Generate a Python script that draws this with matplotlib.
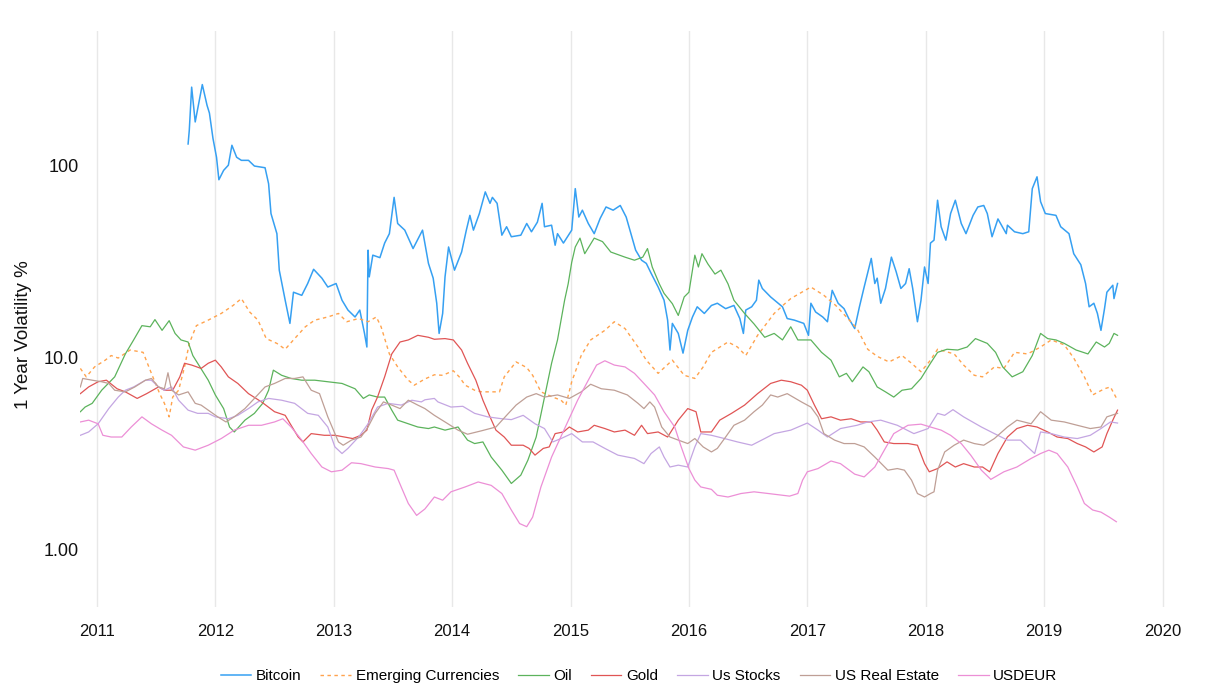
import matplotlib
matplotlib.use("Agg")
import matplotlib.pyplot as plt
import numpy as np

# ---- data: (decimal year, 1-year volatility %) ----
bitcoin = [(2011.77,129),(2011.78,152),(2011.80,255),(2011.83,168),(2011.86,210),(2011.89,263),(2011.93,205),
 (2011.95,187),(2011.98,138),(2012.01,110),(2012.03,84),(2012.07,94),(2012.11,100),(2012.14,127),(2012.18,110),
 (2012.22,106),(2012.28,106),(2012.33,99),(2012.42,97),(2012.45,80),(2012.47,56),(2012.52,44),(2012.54,28.4),
 (2012.59,19.8),(2012.63,15),(2012.66,21.8),(2012.73,21),(2012.78,24.2),(2012.83,28.7),(2012.90,25.8),(2012.95,23.2),
 (2013.02,24.2),(2013.07,19.8),(2013.12,17.6),(2013.18,16.2),(2013.22,17.6),(2013.26,13.3),(2013.28,11.3),(2013.29,36.1),
 (2013.30,26.2),(2013.33,34),(2013.39,33),(2013.43,39.3),(2013.47,44),(2013.51,68),(2013.54,49.7),(2013.60,45.9),
 (2013.67,36.8),(2013.75,45.9),(2013.80,30.8),(2013.84,25.8),(2013.87,19.1),(2013.89,13.3),(2013.92,16.9),(2013.94,26.2),
 (2013.97,37.5),(2014.02,28.4),(2014.08,35.3),(2014.12,45.9),(2014.15,54.8),(2014.18,45.9),(2014.23,56),(2014.28,72.6),
 (2014.32,63.3),(2014.34,68),(2014.38,63.3),(2014.42,43.2),(2014.46,47.8),(2014.50,42.4),(2014.58,43.2),(2014.63,49.7),
 (2014.67,45),(2014.72,50.5),(2014.76,63.3),(2014.78,47.8),(2014.84,48.7),(2014.87,38.3),(2014.89,44),(2014.94,39.3),
 (2015.01,45.9),(2015.04,75.5),(2015.07,53.7),(2015.10,58.3),(2015.15,49.7),(2015.20,44),(2015.25,52.8),(2015.30,60.6),
 (2015.36,58.3),(2015.42,61.7),(2015.47,53.7),(2015.51,44),(2015.55,36.1),(2015.60,32),(2015.64,30.8),(2015.68,27.4),
 (2015.74,23.2),(2015.79,19.8),(2015.82,15.6),(2015.84,10.9),(2015.86,15),(2015.91,13.3),(2015.95,10.5),(2015.99,13.8),
 (2016.03,16.2),(2016.07,18.3),(2016.13,16.9),(2016.19,18.6),(2016.24,19.1),(2016.31,17.9),(2016.38,18.6),(2016.43,15.9),
 (2016.46,13.3),(2016.48,17.6),(2016.53,18.3),(2016.57,19.8),(2016.59,25.2),(2016.62,22.8),(2016.69,20.6),(2016.79,18.3),
 (2016.83,15.9),(2016.89,15.6),(2016.97,15),(2017.01,13),(2017.03,19.1),(2017.07,17.2),(2017.13,16.2),(2017.17,15.3),
 (2017.21,22.3),(2017.26,19.1),(2017.31,17.9),(2017.35,15.9),(2017.40,14.1),(2017.44,18.3),(2017.48,23.2),(2017.54,32.7),
 (2017.57,24.2),(2017.59,25.8),(2017.62,19.1),(2017.66,22.8),(2017.71,33.2),(2017.75,27.9),(2017.79,22.8),(2017.83,24.2),
 (2017.86,28.9),(2017.89,22.8),(2017.93,15.3),(2017.96,19.8),(2017.99,29.5),(2018.02,24.2),(2018.04,39.3),(2018.07,40.7),
 (2018.10,65.7),(2018.13,47.8),(2018.17,40.7),(2018.21,56),(2018.25,65.7),(2018.30,49.7),(2018.34,44),(2018.40,54.8),
 (2018.44,60.6),(2018.49,61.7),(2018.52,56),(2018.56,42.4),(2018.61,52.5),(2018.68,44),(2018.69,48.7),(2018.75,45),
 (2018.82,44),(2018.87,45),(2018.90,75.5),(2018.94,87),(2018.97,64.6),(2019.01,56),(2019.10,54.8),(2019.14,47.8),
 (2019.21,44),(2019.25,34.6),(2019.31,30.3),(2019.35,24.2),(2019.38,18.3),(2019.42,19.1),(2019.45,16.9),(2019.48,13.8),
 (2019.51,17.9),(2019.53,21.8),(2019.58,23.7),(2019.59,20.2),(2019.62,24.2)]

emerging = [(2010.86,8.74),(2010.91,7.9),(2010.98,8.9),(2011.07,9.65),(2011.12,10.2),(2011.18,9.9),(2011.28,10.9),
 (2011.39,10.6),(2011.46,8.24),(2011.53,6.46),(2011.57,5.75),(2011.61,4.89),(2011.64,6.2),(2011.69,6.73),(2011.74,8.9),
 (2011.78,11.8),(2011.84,14.6),(2011.94,15.6),(2012.05,16.9),(2012.15,18.6),(2012.22,20.2),(2012.29,17.2),(2012.36,15.6),
 (2012.43,12.5),(2012.52,11.8),(2012.59,11.0),(2012.67,12.5),(2012.76,14.4),(2012.84,15.6),(2012.95,16.2),(2013.04,16.9),
 (2013.11,15.3),(2013.21,15.9),(2013.29,15.3),(2013.36,16.2),(2013.40,14.4),(2013.47,10.4),(2013.54,8.9),(2013.63,7.59),
 (2013.68,7.15),(2013.77,7.7),(2013.85,8.1),(2013.92,8.05),(2014.01,8.5),(2014.06,7.9),(2014.11,7.15),(2014.19,6.73),
 (2014.25,6.6),(2014.40,6.6),(2014.44,7.9),(2014.54,9.45),(2014.63,8.83),(2014.68,8.05),(2014.75,6.6),(2014.85,6.2),
 (2014.92,5.97),(2014.96,5.63),(2015.01,7.45),(2015.09,10.2),(2015.17,12.3),(2015.29,13.8),(2015.37,15.3),(2015.46,14.1),
 (2015.57,11.3),(2015.64,9.65),(2015.74,8.24),(2015.86,9.65),(2015.96,8.05),(2016.05,7.75),(2016.12,8.9),(2016.19,10.6),
 (2016.33,12.0),(2016.41,11.3),(2016.48,10.2),(2016.58,13.0),(2016.72,16.9),(2016.81,19.0),(2016.86,20.2),(2017.03,23.2),
 (2017.14,21.0),(2017.24,18.6),(2017.33,16.2),(2017.42,14.1),(2017.51,11.0),(2017.59,10.1),(2017.69,9.45),(2017.80,10.2),
 (2017.88,9.3),(2017.96,8.4),(2018.04,9.65),(2018.10,11.0),(2018.24,10.4),(2018.32,9.1),(2018.41,8.05),(2018.48,7.9),
 (2018.58,8.9),(2018.66,8.74),(2018.75,10.6),(2018.86,10.4),(2018.97,11.3),(2019.06,12.3),(2019.17,11.6),(2019.25,9.9),
 (2019.34,7.9),(2019.41,6.36),(2019.51,6.85),(2019.56,7.0),(2019.62,5.97)]

oil = [(2010.86,5.2),(2010.90,5.5),(2010.96,5.75),(2011.04,6.73),(2011.15,7.9),(2011.24,10.4),(2011.31,12.3),
 (2011.38,14.6),(2011.45,14.4),(2011.49,15.7),(2011.55,13.8),(2011.61,15.5),(2011.66,13.3),(2011.71,12.3),(2011.77,12.0),
 (2011.81,10.2),(2011.87,8.9),(2011.94,7.59),(2012.00,6.36),(2012.07,5.4),(2012.12,4.33),(2012.16,4.08),(2012.25,4.7),
 (2012.33,5.1),(2012.40,5.75),(2012.45,6.73),(2012.49,8.56),(2012.56,8.05),(2012.64,7.75),(2012.73,7.59),(2012.84,7.59),
 (2012.95,7.45),(2013.07,7.3),(2013.18,6.85),(2013.25,6.1),(2013.30,6.36),(2013.37,6.2),(2013.43,6.2),(2013.49,5.3),
 (2013.54,4.7),(2013.63,4.5),(2013.71,4.33),(2013.80,4.25),(2013.85,4.33),(2013.94,4.17),(2014.05,4.33),(2014.13,3.7),
 (2014.19,3.55),(2014.26,3.62),(2014.33,3.02),(2014.42,2.58),(2014.50,2.2),(2014.58,2.43),(2014.64,2.91),(2014.71,3.84),
 (2014.78,6.2),(2014.84,9.3),(2014.89,12.3),(2014.95,19.8),(2014.98,24.1),(2015.01,31.2),(2015.04,37.5),(2015.08,41.7),
 (2015.12,34.6),(2015.20,41.7),(2015.27,40.0),(2015.34,35.3),(2015.46,33.2),(2015.54,32.0),(2015.61,33.2),(2015.65,36.8),
 (2015.69,29.5),(2015.75,24.1),(2015.79,21.5),(2015.86,19.0),(2015.91,16.5),(2015.96,20.6),(2016.00,21.8),(2016.05,34.0),
 (2016.08,29.5),(2016.11,34.6),(2016.16,30.6),(2016.22,27.1),(2016.27,28.4),(2016.33,24.1),(2016.38,19.8),(2016.47,16.9),
 (2016.55,14.9),(2016.64,12.7),(2016.72,13.3),(2016.79,12.3),(2016.86,14.4),(2016.92,12.3),(2017.03,12.3),(2017.12,10.6),
 (2017.20,9.65),(2017.27,7.9),(2017.33,8.24),(2017.38,7.45),(2017.47,8.9),(2017.52,8.4),(2017.59,7.0),(2017.66,6.6),
 (2017.73,6.2),(2017.80,6.73),(2017.88,6.85),(2017.96,7.75),(2018.04,9.3),(2018.10,10.6),(2018.18,11.0),(2018.27,10.9),
 (2018.35,11.3),(2018.42,12.5),(2018.52,11.8),(2018.59,10.6),(2018.65,8.9),(2018.73,7.9),(2018.82,8.4),(2018.90,10.2),
 (2018.97,13.3),(2019.03,12.5),(2019.10,12.3),(2019.17,11.8),(2019.27,10.9),(2019.37,10.4),(2019.44,12.0),(2019.51,11.3),
 (2019.55,11.8),(2019.59,13.3),(2019.62,13.0)]

gold = [(2010.86,6.46),(2010.93,7.0),(2011.01,7.45),(2011.08,7.59),(2011.17,6.85),(2011.24,6.6),(2011.34,6.1),
 (2011.42,6.46),(2011.52,7.0),(2011.57,6.73),(2011.64,6.73),(2011.70,7.9),(2011.74,9.3),(2011.80,9.1),(2011.88,8.74),
 (2011.94,9.3),(2012.00,9.65),(2012.05,8.9),(2012.11,7.9),(2012.19,7.3),(2012.28,6.46),(2012.39,5.85),(2012.50,5.2),
 (2012.59,4.98),(2012.64,4.42),(2012.70,3.84),(2012.74,3.62),(2012.81,4.0),(2012.92,3.92),(2013.01,3.92),(2013.09,3.84),
 (2013.16,3.77),(2013.23,3.92),(2013.28,4.17),(2013.32,5.3),(2013.37,6.2),(2013.43,7.9),(2013.49,10.4),(2013.56,12.0),
 (2013.63,12.3),(2013.71,13.0),(2013.80,12.7),(2013.85,12.4),(2013.94,12.5),(2014.01,12.3),(2014.08,10.9),(2014.13,9.3),
 (2014.20,7.59),(2014.26,5.97),(2014.32,4.89),(2014.37,4.17),(2014.44,3.84),(2014.50,3.48),(2014.60,3.48),(2014.65,3.35),
 (2014.70,3.09),(2014.77,3.35),(2014.82,3.41),(2014.87,4.0),(2014.94,4.08),(2014.99,4.33),(2015.06,4.08),(2015.15,4.17),
 (2015.20,4.42),(2015.29,4.25),(2015.37,4.08),(2015.46,4.17),(2015.54,3.92),(2015.60,4.42),(2015.65,4.0),(2015.74,4.08),
 (2015.82,3.84),(2015.91,4.7),(2015.99,5.4),(2016.06,5.2),(2016.10,4.08),(2016.19,4.08),(2016.26,4.7),(2016.36,5.1),
 (2016.47,5.63),(2016.58,6.46),(2016.69,7.3),(2016.78,7.59),(2016.86,7.45),(2016.95,7.15),(2017.00,6.73),(2017.06,5.63),
 (2017.12,4.78),(2017.20,4.89),(2017.28,4.7),(2017.37,4.78),(2017.45,4.6),(2017.54,4.6),(2017.59,4.17),(2017.65,3.62),
 (2017.73,3.55),(2017.85,3.55),(2017.93,3.48),(2017.99,2.79),(2018.03,2.53),(2018.10,2.63),(2018.18,2.85),(2018.25,2.68),
 (2018.32,2.79),(2018.41,2.68),(2018.48,2.68),(2018.54,2.53),(2018.61,3.15),(2018.69,3.84),(2018.77,4.25),(2018.86,4.42),
 (2018.94,4.33),(2019.03,4.08),(2019.11,3.84),(2019.20,3.77),(2019.28,3.55),(2019.35,3.41),(2019.42,3.21),(2019.49,3.41),
 (2019.53,4.0),(2019.58,4.7),(2019.62,5.3)]

us_stocks = [(2010.86,3.92),(2010.93,4.08),(2011.01,4.5),(2011.10,5.4),(2011.18,6.2),(2011.24,6.73),(2011.31,7.0),
 (2011.41,7.59),(2011.46,7.59),(2011.52,7.0),(2011.57,6.73),(2011.63,7.0),(2011.69,5.97),(2011.77,5.3),(2011.85,5.1),
 (2011.94,5.1),(2012.00,4.89),(2012.11,4.78),(2012.19,4.98),(2012.28,5.4),(2012.36,5.85),(2012.45,6.1),(2012.56,5.97),
 (2012.67,5.75),(2012.78,5.1),(2012.87,4.98),(2012.95,4.33),(2013.01,3.41),(2013.07,3.15),(2013.12,3.35),(2013.21,3.84),
 (2013.29,4.5),(2013.37,5.5),(2013.46,5.75),(2013.57,5.63),(2013.66,5.97),(2013.74,5.85),(2013.77,6.0),(2013.85,6.1),
 (2013.88,5.85),(2013.99,5.5),(2014.09,5.55),(2014.19,5.1),(2014.30,4.89),(2014.42,4.78),(2014.50,4.73),(2014.60,4.98),
 (2014.70,4.5),(2014.78,4.25),(2014.85,3.62),(2014.92,3.77),(2015.01,4.0),(2015.10,3.62),(2015.19,3.62),(2015.29,3.35),
 (2015.40,3.09),(2015.54,2.97),(2015.62,2.79),(2015.68,3.15),(2015.75,3.41),(2015.79,3.02),(2015.84,2.68),(2015.91,2.74),
 (2015.99,2.68),(2016.05,3.41),(2016.10,4.0),(2016.19,3.92),(2016.30,3.77),(2016.41,3.62),(2016.53,3.48),(2016.64,3.77),
 (2016.72,4.0),(2016.86,4.17),(2017.00,4.54),(2017.09,4.17),(2017.17,3.84),(2017.28,4.25),(2017.42,4.42),(2017.51,4.6),
 (2017.62,4.7),(2017.76,4.42),(2017.90,4.0),(2018.02,4.25),(2018.10,5.1),(2018.16,4.98),(2018.23,5.33),(2018.32,4.89),
 (2018.47,4.33),(2018.58,4.0),(2018.69,3.7),(2018.80,3.7),(2018.86,3.41),(2018.92,3.15),(2018.97,4.08),(2019.06,4.0),
 (2019.17,3.84),(2019.28,3.77),(2019.39,3.92),(2019.48,4.25),(2019.56,4.6),(2019.62,4.54)]

us_real_estate = [(2010.86,7.0),(2010.88,7.75),(2010.96,7.59),(2011.04,7.45),(2011.10,7.3),(2011.15,6.73),(2011.24,6.6),
 (2011.32,7.0),(2011.41,7.59),(2011.46,7.75),(2011.52,7.0),(2011.57,6.85),(2011.60,8.3),(2011.63,6.73),(2011.69,6.36),
 (2011.77,6.6),(2011.83,5.75),(2011.88,5.63),(2011.94,5.3),(2012.02,4.89),(2012.09,4.6),(2012.16,4.89),(2012.25,5.4),
 (2012.33,6.1),(2012.42,7.0),(2012.50,7.3),(2012.59,7.75),(2012.67,7.75),(2012.74,7.9),(2012.81,6.73),(2012.88,6.46),
 (2012.95,4.89),(2013.04,3.62),(2013.08,3.48),(2013.15,3.7),(2013.23,3.84),(2013.29,4.33),(2013.35,5.1),(2013.42,5.85),
 (2013.49,5.63),(2013.56,5.4),(2013.63,5.97),(2013.71,5.63),(2013.77,5.4),(2013.85,4.98),(2013.94,4.6),(2014.05,4.17),
 (2014.13,3.97),(2014.25,4.14),(2014.37,4.33),(2014.46,4.98),(2014.54,5.63),(2014.63,6.2),(2014.71,6.46),(2014.78,6.2),
 (2014.89,6.36),(2014.99,6.1),(2015.09,6.6),(2015.17,7.23),(2015.26,6.85),(2015.37,6.73),(2015.48,6.36),(2015.57,5.75),
 (2015.62,5.4),(2015.67,5.85),(2015.71,5.5),(2015.77,4.33),(2015.84,3.84),(2015.91,3.7),(2015.99,3.55),(2016.05,3.77),
 (2016.12,3.41),(2016.19,3.21),(2016.24,3.35),(2016.31,3.84),(2016.38,4.42),(2016.47,4.7),(2016.55,5.2),(2016.62,5.63),
 (2016.69,6.36),(2016.75,6.2),(2016.83,6.46),(2016.95,5.85),(2017.03,5.5),(2017.09,4.89),(2017.14,4.0),(2017.23,3.7),
 (2017.31,3.55),(2017.40,3.55),(2017.48,3.41),(2017.57,3.02),(2017.68,2.58),(2017.76,2.63),(2017.82,2.58),(2017.88,2.29),
 (2017.93,1.95),(2017.99,1.87),(2018.04,1.95),(2018.07,1.99),(2018.10,2.58),(2018.16,3.21),(2018.24,3.48),(2018.32,3.7),
 (2018.41,3.55),(2018.49,3.48),(2018.58,3.77),(2018.69,4.33),(2018.77,4.7),(2018.89,4.5),(2018.97,5.2),(2019.06,4.7),
 (2019.17,4.6),(2019.28,4.42),(2019.39,4.25),(2019.48,4.33),(2019.53,4.89),(2019.62,5.1)]

usdeur = [(2010.86,4.6),(2010.93,4.7),(2011.01,4.5),(2011.05,3.92),(2011.12,3.84),(2011.21,3.84),(2011.29,4.33),
 (2011.38,4.89),(2011.46,4.5),(2011.55,4.17),(2011.63,3.92),(2011.73,3.41),(2011.83,3.28),(2011.94,3.48),(2012.05,3.77),
 (2012.16,4.17),(2012.28,4.42),(2012.39,4.42),(2012.50,4.6),(2012.57,4.78),(2012.64,4.33),(2012.73,3.7),(2012.81,3.15),
 (2012.90,2.68),(2012.98,2.53),(2013.07,2.58),(2013.15,2.82),(2013.23,2.79),(2013.35,2.68),(2013.46,2.63),(2013.51,2.58),
 (2013.57,2.11),(2013.63,1.73),(2013.70,1.50),(2013.77,1.62),(2013.85,1.87),(2013.92,1.80),(2013.99,1.99),(2014.11,2.11),
 (2014.22,2.24),(2014.33,2.15),(2014.42,1.95),(2014.50,1.60),(2014.57,1.36),(2014.63,1.31),(2014.68,1.47),(2014.75,2.11),
 (2014.84,3.02),(2014.95,4.25),(2015.06,5.97),(2015.15,7.59),(2015.22,9.1),(2015.29,9.58),(2015.37,9.1),(2015.46,8.9),
 (2015.54,8.24),(2015.62,7.3),(2015.71,6.36),(2015.79,5.2),(2015.88,4.33),(2015.93,3.48),(2016.00,2.63),(2016.05,2.29),
 (2016.10,2.11),(2016.19,2.05),(2016.24,1.91),(2016.33,1.87),(2016.44,1.95),(2016.55,1.99),(2016.67,1.95),(2016.79,1.91),
 (2016.85,1.89),(2016.92,1.95),(2016.96,2.29),(2017.00,2.53),(2017.09,2.63),(2017.20,2.88),(2017.28,2.79),(2017.40,2.46),
 (2017.48,2.38),(2017.57,2.68),(2017.65,3.28),(2017.73,4.0),(2017.85,4.42),(2017.96,4.48),(2018.04,4.33),(2018.13,4.17),
 (2018.21,3.92),(2018.30,3.55),(2018.38,3.09),(2018.47,2.58),(2018.55,2.31),(2018.66,2.53),(2018.77,2.68),(2018.89,2.97),
 (2018.97,3.15),(2019.04,3.28),(2019.11,3.15),(2019.20,2.68),(2019.28,2.11),(2019.34,1.73),(2019.41,1.60),(2019.48,1.56),
 (2019.55,1.47),(2019.61,1.39)]

series_names = ["Bitcoin", "Emerging Currencies", "Oil", "Gold", "Us Stocks", "US Real Estate", "USDEUR"]
year_ticks = [2011, 2012, 2013, 2014, 2015, 2016, 2017, 2018, 2019, 2020]
y_ticks = [1, 10, 100]
y_tick_labels = ["1.00", "10.0", "100"]

# ---- styling ----
plt.rcParams["font.family"] = ["Liberation Sans", "DejaVu Sans"]
colors = ["#36a0f2", "#ffa34d", "#5cb35c", "#e05555", "#c4a6e2", "#bf9f96", "#ec8fd6"]
styles = ["-", (0, (2.5, 2.5)), "-", "-", "-", "-", "-"]
widths = [1.1, 1.0, 0.9, 0.9, 0.9, 0.9, 0.9]
all_series = [bitcoin, emerging, oil, gold, us_stocks, us_real_estate, usdeur]

fig = plt.figure(figsize=(12.09, 6.95), dpi=100)
ax = fig.add_axes([80/1209, 88/695, (1172-80)/1209, (664-88)/695])

handles = []
for data, name, c, ls, lw in zip(all_series, series_names, colors, styles, widths):
    t, v = zip(*data)
    h, = ax.plot(t, v, color=c, linestyle=ls, linewidth=lw, label=name)
    handles.append(h)

ax.set_yscale("log")
ax.set_ylim(0.5, 500)
ax.set_xlim(2010.857, 2020.08)
ax.set_yticks(y_ticks)
ax.set_yticklabels(y_tick_labels)
ax.yaxis.set_minor_locator(matplotlib.ticker.NullLocator())
ax.set_xticks(year_ticks)
ax.set_xticklabels([str(y) for y in year_ticks])
ax.tick_params(axis="both", length=0, colors="#111111")
ax.tick_params(axis="x", labelsize=12, pad=12)
ax.tick_params(axis="y", labelsize=13, pad=1)
ax.grid(axis="x", color="#e8e8e8", linewidth=1)
ax.grid(axis="y", visible=False)
ax.set_axisbelow(True)
for s in ax.spines.values():
    s.set_visible(False)

fig.text(24/1209, 1 - 335/695, "1 Year Volatility %", rotation=90, fontsize=13.5,
         ha="center", va="center", color="#111111")

fig.legend(handles=handles, labels=series_names, loc="center", bbox_to_anchor=(639/1209, 19/695),
           ncol=7, frameon=False, fontsize=11, handlelength=2.0, handletextpad=0.3,
           columnspacing=1.25)

fig.savefig("out.png", dpi=100)
